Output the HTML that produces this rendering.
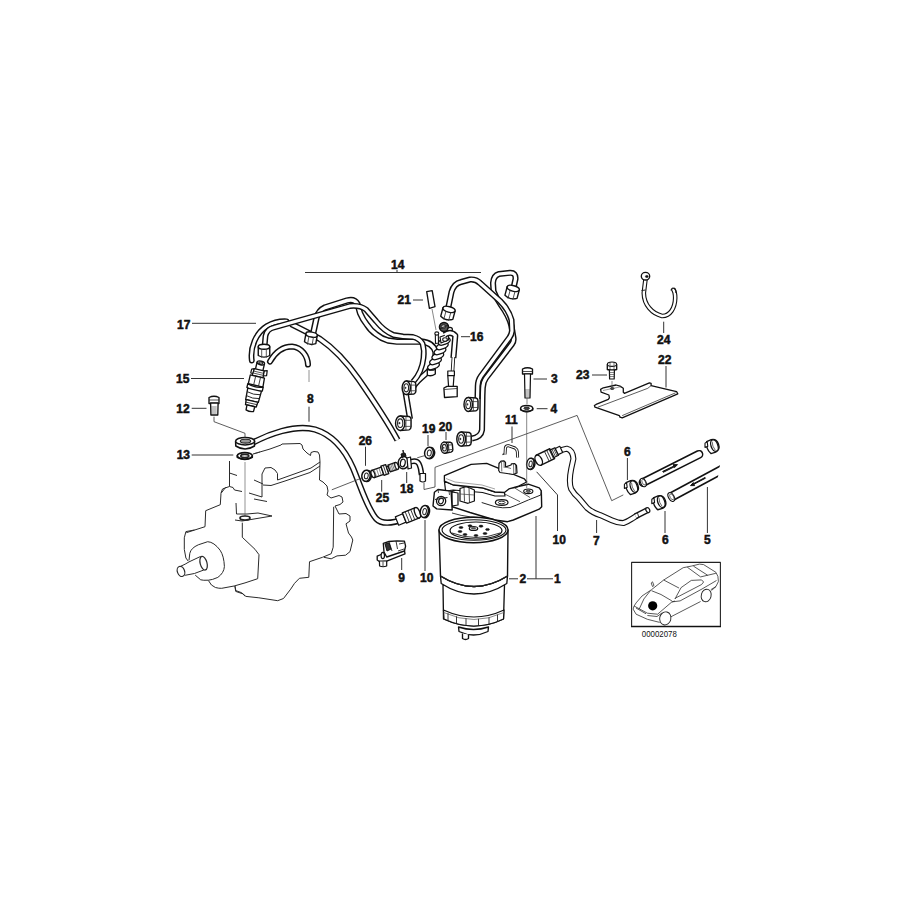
<!DOCTYPE html>
<html><head><meta charset="utf-8"><style>
html,body{margin:0;padding:0;background:#fff;width:900px;height:900px;overflow:hidden}
svg{display:block}
.l{font-family:"Liberation Sans",sans-serif;font-weight:bold;fill:#111;stroke:#111;stroke-width:0.5px}
.s{font-family:"Liberation Sans",sans-serif;fill:#111}
</style></head><body>
<svg width="900" height="900" viewBox="0 0 900 900">
<rect width="900" height="900" fill="#fff"/>
<path d="M225.7,487.3 L221,493.3 L220.3,504.7 L205.7,510.7 L205,526.7 L186.3,532.7" fill="none" stroke="#2a2a2a" stroke-width="1.0"/>
<path d="M221,493 L222.5,489 L225,488 L229.5,486.5 L233,487.5 L234.5,490" fill="none" stroke="#2a2a2a" stroke-width="1.0"/>
<path d="M253.4,453.9 L270,449 L281,445 L282,444 L300,443.5 L302,445 L303,449 L307,453 L310.5,455.5 L311,452.5 L314,451.5 L318,452 L319.5,455 L320,462 L319.5,480 L323,482 L327,486 L328,491 L327,495 L331,498 L339,495.5 L342,497 L343,502 L340,504.5 L335,506 L339,514 L346,513.5 L350,516 L350,521 L346,523.8 L348.5,533 L351.5,537 L352.8,540 L350,551.6 L345.6,555.2 L337,555.9 L331.2,558.8 L324,557.3" fill="none" stroke="#2a2a2a" stroke-width="1.0"/>
<path d="M262,474 L265,468 L271,467.5 L275,470 L277.5,473.5 L277.5,480 L311,468 L320,462" fill="none" stroke="#2a2a2a" stroke-width="1.0"/>
<path d="M263,485 L271,485.5 L285,481 L310,472.5 L320,466" fill="none" stroke="#2a2a2a" stroke-width="1.0"/>
<path d="M333.7,506.8 L333.2,547.2 L331.2,553.7 L322.5,557.3 L309.5,561.7 L308.8,577.3 L299.4,578.3 Q294,583 290.7,589.1 L283.5,598.5 L277.7,600.7 L258.9,597.8 L245.9,596.4 L241.6,592.7 L235.8,590.6 L235,586.2" fill="none" stroke="#2a2a2a" stroke-width="1.0"/>
<path d="M194.4,530 L185.9,531.6 L184.3,537.8 L184.3,549.4 L185.9,558 L188.2,561.1" fill="none" stroke="#2a2a2a" stroke-width="1.0"/>
<path d="M189,560.3 L189.8,553.3 Q191,548 198.3,544.8 L207.7,541.7 Q214,542 220.1,550.2 Q224,556 224.4,566.5 Q224,573 217.8,577.4 Q212,580 208.4,580.2 Q203,580.5 200.7,579.8 L195.2,575.1" fill="none" stroke="#2a2a2a" stroke-width="1.0"/>
<path d="M208.4,580.5 Q211,586 215.4,587.5 Q219,588.5 221.7,588.3 L234.1,586 L245,582.9 M234.9,586 L235.7,591.4 L242.7,593.8 L245,596.1" fill="none" stroke="#2a2a2a" stroke-width="1.0"/>
<path d="M200.7,556.4 L189,561.9 L185.1,564.2 L180.8,566.2" fill="none" stroke="#2a2a2a" stroke-width="1.0"/>
<path d="M203.8,570 L194.4,573.5 L185.1,575.3" fill="none" stroke="#2a2a2a" stroke-width="1.0"/>
<ellipse cx="203.6" cy="563.2" rx="3.4" ry="7.0" fill="none" stroke="#2a2a2a" stroke-width="1.22" transform="rotate(-15 203.6 563.2)"/>
<ellipse cx="181" cy="571.4" rx="3.6" ry="5.2" fill="#fff" stroke="#2a2a2a" stroke-width="1.22" transform="rotate(-20 181 571.4)"/>
<path d="M245,582.9 L257.7,578.7 L259,554.7 L255,549.3 L242.3,537.3 L242.3,522.7" fill="none" stroke="#2a2a2a" stroke-width="1.0"/>
<path d="M236,503 L236.5,514 L247,514 L258,513 L272,516 L242,521 L235,520" fill="none" stroke="#2a2a2a" stroke-width="1.0"/>
<path d="M229.5,461 L229.5,486.5 M229.5,473 L237,475.5" fill="none" stroke="#2a2a2a" stroke-width="1.0"/>
<path d="M234.5,490 L242,491.5 M254,480 L263,484 M249,493 L262,497 M254,499 L267,501.5" fill="none" stroke="#2a2a2a" stroke-width="1.0"/>
<path d="M262,474 L262,497" fill="none" stroke="#2a2a2a" stroke-width="1.0"/>
<path d="M245,462 L245,517" fill="none" stroke="#666" stroke-width="0.7"/>
<ellipse cx="245" cy="518" rx="5" ry="2" fill="#fff" stroke="#222" stroke-width="1.708" transform="rotate(0 245 518)"/>
<path d="M291,324 C300,328.5 312,334.5 320,339 C334,348.5 348,364 358.5,379 C371,397 386,419 397.5,440" fill="none" stroke="#111" stroke-width="6.344" stroke-linecap="butt" stroke-linejoin="round" />
<path d="M291,324 C300,328.5 312,334.5 320,339 C334,348.5 348,364 358.5,379 C371,397 386,419 397.5,440" fill="none" stroke="#fff" stroke-width="3.4440000000000004" stroke-linecap="butt" stroke-linejoin="round" />
<path d="M251.8,360.5 C250,347 256,333 267,326 C274,322 280,321 286.5,321.3" fill="none" stroke="#111" stroke-width="5.856" stroke-linecap="round" stroke-linejoin="round" />
<path d="M251.8,360.5 C250,347 256,333 267,326 C274,322 280,321 286.5,321.3" fill="none" stroke="#fff" stroke-width="2.956" stroke-linecap="round" stroke-linejoin="round" />
<path d="M270,361.5 C276,351 284,346.5 292,346.5 C302,347.5 307.5,356 308,364.5" fill="none" stroke="#111" stroke-width="6.1" stroke-linecap="round" stroke-linejoin="round" />
<path d="M270,361.5 C276,351 284,346.5 292,346.5 C302,347.5 307.5,356 308,364.5" fill="none" stroke="#fff" stroke-width="3.1999999999999997" stroke-linecap="round" stroke-linejoin="round" />
<path d="M313,334 L316.5,318 Q318.5,310.5 325,307.5 L347,300.5 Q354.5,298.5 357.5,304 L360,313 Q363,320 367,324.8 Q371,331 376,334.2 Q381,338.5 388,340.5 L397,341.7 L421,341.5 Q433,342.5 435.5,352 Q436.5,363 430,370 L421,378 Q414,384 410,392" fill="none" stroke="#111" stroke-width="6.344" stroke-linecap="butt" stroke-linejoin="round" />
<path d="M313,334 L316.5,318 Q318.5,310.5 325,307.5 L347,300.5 Q354.5,298.5 357.5,304 L360,313 Q363,320 367,324.8 Q371,331 376,334.2 Q381,338.5 388,340.5 L397,341.7 L421,341.5 Q433,342.5 435.5,352 Q436.5,363 430,370 L421,378 Q414,384 410,392" fill="none" stroke="#fff" stroke-width="3.4440000000000004" stroke-linecap="butt" stroke-linejoin="round" />
<path d="M264.5,347 L265.5,336 Q267,329 274,327.5 L350,306 Q360,305 366,309.5 L376,321 Q384,331 393.5,335 L403,336.5 L413,337 Q419.5,338.5 422.5,343.5 Q424.5,350 423.5,358 Q422,372 413,382" fill="none" stroke="#111" stroke-width="5.856" stroke-linecap="butt" stroke-linejoin="round" />
<path d="M264.5,347 L265.5,336 Q267,329 274,327.5 L350,306 Q360,305 366,309.5 L376,321 Q384,331 393.5,335 L403,336.5 L413,337 Q419.5,338.5 422.5,343.5 Q424.5,350 423.5,358 Q422,372 413,382" fill="none" stroke="#fff" stroke-width="2.956" stroke-linecap="butt" stroke-linejoin="round" />
<path d="M405.5,392 L410,419" fill="none" stroke="#111" stroke-width="6.1" stroke-linecap="butt" stroke-linejoin="round" />
<path d="M405.5,392 L410,419" fill="none" stroke="#fff" stroke-width="3.1999999999999997" stroke-linecap="butt" stroke-linejoin="round" />
<path d="M513.5,288 L515.5,279 Q516,272.5 510,272.8 L499,274 Q493.5,275.5 493,283 L493.5,291 Q496,298 501,305 Q509,316 511.5,326 L513.5,338 Q514,341.5 512,344 L486,378 Q483,382 482.8,388 L482.5,396 L482,430 Q481,437 472,438.5" fill="none" stroke="#111" stroke-width="6.1" stroke-linecap="butt" stroke-linejoin="round" />
<path d="M513.5,288 L515.5,279 Q516,272.5 510,272.8 L499,274 Q493.5,275.5 493,283 L493.5,291 Q496,298 501,305 Q509,316 511.5,326 L513.5,338 Q514,341.5 512,344 L486,378 Q483,382 482.8,388 L482.5,396 L482,430 Q481,437 472,438.5" fill="none" stroke="#fff" stroke-width="3.1999999999999997" stroke-linecap="butt" stroke-linejoin="round" />
<path d="M448,309 L451.5,292 Q454,283.5 461,282 L470,279.5 Q476,279 480,283 L500,301 Q509,310 511.5,320 L512,331 Q511.5,335 509.5,337.5 L481,376 Q478,380 477.8,386 L477.5,399" fill="none" stroke="#111" stroke-width="6.1" stroke-linecap="butt" stroke-linejoin="round" />
<path d="M448,309 L451.5,292 Q454,283.5 461,282 L470,279.5 Q476,279 480,283 L500,301 Q509,310 511.5,320 L512,331 Q511.5,335 509.5,337.5 L481,376 Q478,380 477.8,386 L477.5,399" fill="none" stroke="#fff" stroke-width="3.1999999999999997" stroke-linecap="butt" stroke-linejoin="round" />
<g transform="rotate(0 264 351.5)">
<path d="M258.25,346.75 L258.25,355.49 Q264.00,358.78 269.75,355.49 L269.75,346.75 Z" fill="#fff" stroke="#111" stroke-width="1.4" stroke-linejoin="round"/>
<ellipse cx="264" cy="346.75" rx="5.75" ry="2.53" fill="#fff" stroke="#111" stroke-width="1.4"/>
<path d="M261.70,349.03 L261.70,357.77 M266.30,349.03 L266.30,357.77" stroke="#333" stroke-width="0.8" fill="none"/>
</g>
<g transform="rotate(10 310.8 339)">
<path d="M305.05,334.50 L305.05,342.74 Q310.80,346.03 316.55,342.74 L316.55,334.50 Z" fill="#fff" stroke="#111" stroke-width="1.4" stroke-linejoin="round"/>
<ellipse cx="310.8" cy="334.50" rx="5.75" ry="2.53" fill="#fff" stroke="#111" stroke-width="1.4"/>
<path d="M308.50,336.78 L308.50,345.02 M313.10,336.78 L313.10,345.02" stroke="#333" stroke-width="0.8" fill="none"/>
</g>
<g transform="rotate(15 447.8 314)">
<path d="M441.55,309.25 L441.55,317.93 Q447.80,321.50 454.05,317.93 L454.05,309.25 Z" fill="#fff" stroke="#111" stroke-width="1.4" stroke-linejoin="round"/>
<ellipse cx="447.8" cy="309.25" rx="6.25" ry="2.75" fill="#fff" stroke="#111" stroke-width="1.4"/>
<path d="M445.30,311.73 L445.30,320.40 M450.30,311.73 L450.30,320.40" stroke="#333" stroke-width="0.8" fill="none"/>
</g>
<g transform="rotate(15 512 293)">
<path d="M505.75,288.25 L505.75,296.93 Q512.00,300.50 518.25,296.93 L518.25,288.25 Z" fill="#fff" stroke="#111" stroke-width="1.4" stroke-linejoin="round"/>
<ellipse cx="512" cy="288.25" rx="6.25" ry="2.75" fill="#fff" stroke="#111" stroke-width="1.4"/>
<path d="M509.50,290.73 L509.50,299.40 M514.50,290.73 L514.50,299.40" stroke="#333" stroke-width="0.8" fill="none"/>
</g>
<g transform="rotate(0 409 387.8)">
<path d="M406.26,381.05 L413.85,381.65 Q415.85,382.25 415.85,384.43 L415.85,391.18 Q415.85,393.35 413.85,393.95 L406.26,394.55 Z" fill="#fff" stroke="#111" stroke-width="1.45" stroke-linejoin="round"/>
<path d="M411.33,381.35 L411.33,394.25 M406.26,385.10 L415.85,385.10 M406.26,390.77 L415.85,390.77" stroke="#333" stroke-width="0.8" fill="none"/>
<ellipse cx="406.26" cy="387.8" rx="4.11" ry="6.75" fill="#fff" stroke="#111" stroke-width="1.45"/>
<ellipse cx="406.26" cy="387.8" rx="2.33" ry="4.05" fill="#fff" stroke="#222" stroke-width="1.1"/>
<ellipse cx="405.57" cy="387.8" rx="0.82" ry="1.08" fill="#333"/>
</g>
<g transform="rotate(0 403.3 423.2)">
<path d="M400.20,415.95 L409.05,416.55 Q411.05,417.15 411.05,419.57 L411.05,426.82 Q411.05,429.25 409.05,429.85 L400.20,430.45 Z" fill="#fff" stroke="#111" stroke-width="1.45" stroke-linejoin="round"/>
<path d="M405.94,416.25 L405.94,430.15 M400.20,420.30 L411.05,420.30 M400.20,426.39 L411.05,426.39" stroke="#333" stroke-width="0.8" fill="none"/>
<ellipse cx="400.20" cy="423.2" rx="4.65" ry="7.25" fill="#fff" stroke="#111" stroke-width="1.45"/>
<ellipse cx="400.20" cy="423.2" rx="2.64" ry="4.35" fill="#fff" stroke="#222" stroke-width="1.1"/>
<ellipse cx="399.43" cy="423.2" rx="0.93" ry="1.16" fill="#333"/>
</g>
<g transform="rotate(0 471 404.4)">
<path d="M468.20,397.40 L476.00,398.00 Q478.00,398.60 478.00,400.90 L478.00,407.90 Q478.00,410.20 476.00,410.80 L468.20,411.40 Z" fill="#fff" stroke="#111" stroke-width="1.45" stroke-linejoin="round"/>
<path d="M473.38,397.70 L473.38,411.10 M468.20,401.60 L478.00,401.60 M468.20,407.48 L478.00,407.48" stroke="#333" stroke-width="0.8" fill="none"/>
<ellipse cx="468.20" cy="404.4" rx="4.20" ry="7.00" fill="#fff" stroke="#111" stroke-width="1.45"/>
<ellipse cx="468.20" cy="404.4" rx="2.38" ry="4.20" fill="#fff" stroke="#222" stroke-width="1.1"/>
<ellipse cx="467.50" cy="404.4" rx="0.84" ry="1.12" fill="#333"/>
</g>
<g transform="rotate(0 464 439)">
<path d="M461.12,431.90 L469.20,432.50 Q471.20,433.10 471.20,435.45 L471.20,442.55 Q471.20,444.90 469.20,445.50 L461.12,446.10 Z" fill="#fff" stroke="#111" stroke-width="1.45" stroke-linejoin="round"/>
<path d="M466.45,432.20 L466.45,445.80 M461.12,436.16 L471.20,436.16 M461.12,442.12 L471.20,442.12" stroke="#333" stroke-width="0.8" fill="none"/>
<ellipse cx="461.12" cy="439" rx="4.32" ry="7.10" fill="#fff" stroke="#111" stroke-width="1.45"/>
<ellipse cx="461.12" cy="439" rx="2.45" ry="4.26" fill="#fff" stroke="#222" stroke-width="1.1"/>
<ellipse cx="460.40" cy="439" rx="0.86" ry="1.14" fill="#333"/>
</g>
<path d="M426.7,291.7 L432.2,290.6 L435,306.7 L429.4,308.3 Z" fill="#fff" stroke="#111" stroke-width="1.342" stroke-linejoin="round" />
<path d="M427.3,369 L435.3,368 L435.3,374 Q431,377 427.3,375 Z" fill="#fff" stroke="#111" stroke-width="1.342" stroke-linejoin="round" />
<ellipse cx="431.3" cy="368.5" rx="4" ry="1.8" fill="#555" stroke="#111" stroke-width="1.098" transform="rotate(0 431.3 368.5)"/>
<ellipse cx="433.5" cy="366" rx="6.2" ry="2.9" fill="#fff" stroke="#111" stroke-width="1.281" transform="rotate(-22 433.5 366)"/>
<ellipse cx="435.5" cy="361" rx="6.2" ry="2.9" fill="#fff" stroke="#111" stroke-width="1.281" transform="rotate(-22 435.5 361)"/>
<ellipse cx="437.8" cy="356" rx="6.2" ry="2.9" fill="#fff" stroke="#111" stroke-width="1.281" transform="rotate(-22 437.8 356)"/>
<ellipse cx="440" cy="351" rx="6.2" ry="2.9" fill="#fff" stroke="#111" stroke-width="1.281" transform="rotate(-22 440 351)"/>
<ellipse cx="442.3" cy="346" rx="6.2" ry="2.9" fill="#fff" stroke="#111" stroke-width="1.281" transform="rotate(-22 442.3 346)"/>
<ellipse cx="444.3" cy="341.5" rx="6.2" ry="2.9" fill="#fff" stroke="#111" stroke-width="1.281" transform="rotate(-22 444.3 341.5)"/>
<path d="M440,337 L448.5,334 L448.5,340 L441,343 Z" fill="#fff" stroke="#111" stroke-width="1.22" stroke-linejoin="round" />
<ellipse cx="445" cy="339.5" rx="2.3" ry="1.8" fill="#fff" stroke="#111" stroke-width="1.098" transform="rotate(0 445 339.5)"/>
<path d="M435.3,334 L438.3,333.5 L438.5,343 L435.5,343.5 Z" fill="#fff" stroke="#111" stroke-width="1.098" stroke-linejoin="round" />
<ellipse cx="436.8" cy="333.5" rx="2.0" ry="1.6" fill="#fff" stroke="#111" stroke-width="1.098" transform="rotate(0 436.8 333.5)"/>
<ellipse cx="444" cy="327" rx="4.5" ry="4.5" fill="#555" stroke="#111" stroke-width="1.586" transform="rotate(0 444 327)"/>
<ellipse cx="443.5" cy="326.5" rx="2.2" ry="1.8" fill="#bbb" stroke="#222" stroke-width="0.976" transform="rotate(0 443.5 326.5)"/>
<path d="M440,329 L448,325" fill="none" stroke="#111" stroke-width="0.8"/>
<ellipse cx="450" cy="329.5" rx="2.4" ry="2.2" fill="#fff" stroke="#111" stroke-width="1.22" transform="rotate(0 450 329.5)"/>
<path d="M444.5,335 Q450.5,330.5 455.3,335.5 L453.4,358" fill="none" stroke="#111" stroke-width="6.1" stroke-linecap="butt" stroke-linejoin="round" />
<path d="M444.5,335 Q450.5,330.5 455.3,335.5 L453.4,358" fill="none" stroke="#fff" stroke-width="3.1999999999999997" stroke-linecap="butt" stroke-linejoin="round" />
<path d="M453.4,357 L452.5,371.5" fill="none" stroke="#111" stroke-width="3.6" stroke-linecap="butt" stroke-linejoin="round" />
<path d="M453.4,357 L452.5,371.5" fill="none" stroke="#fff" stroke-width="1.8" stroke-linecap="butt" stroke-linejoin="round" />
<path d="M447.8,371 L454.4,371 L454.4,375.6 L447.8,375.6 Z" fill="#fff" stroke="#111" stroke-width="1.22" stroke-linejoin="round" />
<path d="M447.8,375.6 L454,375.6 L453.2,386.7 L448.6,386.7 Z" fill="#fff" stroke="#111" stroke-width="1.22" stroke-linejoin="round" />
<path d="M443.9,388 L447,386.3 L457.2,386.3 L457.2,396.7 L444.5,397.5 Z" fill="#fff" stroke="#111" stroke-width="1.342" stroke-linejoin="round" />
<path d="M444.2,389.5 L457,388.5" fill="none" stroke="#222" stroke-width="0.8"/>
<g transform="translate(261,362) rotate(13)">
<path d="M-3.8,1 L3.8,1 L3.8,9 L-3.8,9 Z" fill="#fff" stroke="#111" stroke-width="1.342" stroke-linejoin="round" />
<ellipse cx="0" cy="1" rx="3.8" ry="1.8" fill="#fff" stroke="#111" stroke-width="1.342" transform="rotate(0 0 1)"/>
<ellipse cx="0" cy="1" rx="2" ry="0.9" fill="#fff" stroke="#111" stroke-width="0.976" transform="rotate(0 0 1)"/>
<path d="M-7.5,9 L-5,8 L-5,13 L-7.5,13 Z" fill="#fff" stroke="#111" stroke-width="1.22" stroke-linejoin="round" />
<path d="M5,8 L8,7 L8.5,12 L5,13 Z" fill="#fff" stroke="#111" stroke-width="1.22" stroke-linejoin="round" />
<path d="M-5,8 L5,8 L5.5,15 L-5.5,15 Z" fill="#fff" stroke="#111" stroke-width="1.342" stroke-linejoin="round" />
<path d="M-5,10.5 L5,10.5 M-5,12.5 L5.3,12.5" fill="none" stroke="#222" stroke-width="0.7"/>
<path d="M-7.5,15 L7,15 L7.5,24 L-7.5,24 Z" fill="#fff" stroke="#111" stroke-width="1.342" stroke-linejoin="round" />
<path d="M-2,15 L-2,24 M3,15 L3,24" fill="none" stroke="#222" stroke-width="0.8"/>
<path d="M-8,24 Q0,27 7.8,24 L7.8,28 Q0,31 -8,28 Z" fill="#fff" stroke="#111" stroke-width="1.342" stroke-linejoin="round" />
<path d="M-7,28.5 L7,28.5 L6.5,40 L-6.5,40 Z" fill="#fff" stroke="#111" stroke-width="1.342" stroke-linejoin="round" />
<path d="M-7,32 Q0,34 7,32 M-6.8,36 Q0,38 6.8,36" fill="none" stroke="#222" stroke-width="0.9"/>
<path d="M-6,40 L6,40 L5.5,45 L-5.5,45 Z" fill="#fff" stroke="#111" stroke-width="1.342" stroke-linejoin="round" />
<path d="M-6,42.5 L5.8,42.5" fill="none" stroke="#222" stroke-width="0.8"/>
<path d="M-4,45 L4,45 L3.8,50 Q0,51.5 -3.8,50 Z" fill="#fff" stroke="#111" stroke-width="1.342" stroke-linejoin="round" />
</g>
<path d="M209,397.5 Q214,395 219,397.5 L219,403.5 L209,403.5 Z" fill="#fff" stroke="#111" stroke-width="1.342" stroke-linejoin="round" />
<path d="M209,400 L219,400" fill="none" stroke="#222" stroke-width="0.8"/>
<path d="M210.6,403 L218.1,403 L217.8,415 L210.9,415 Z" fill="#fff" stroke="#111" stroke-width="1.342" stroke-linejoin="round" />
<path d="M211.3,407 L216.7,407" fill="none" stroke="#333" stroke-width="0.6"/>
<path d="M211.3,409 L216.7,409" fill="none" stroke="#333" stroke-width="0.6"/>
<path d="M211.3,411 L216.7,411" fill="none" stroke="#333" stroke-width="0.6"/>
<path d="M211.3,413 L216.7,413" fill="none" stroke="#333" stroke-width="0.6"/>
<path d="M252,443 C268,434.5 295,424 315,429.5 C333,435 345,450 353,468 C361,487 367,508 376,518.5 C382,525 392,523.5 404,519" fill="none" stroke="#111" stroke-width="6.344" stroke-linecap="butt" stroke-linejoin="round" />
<path d="M252,443 C268,434.5 295,424 315,429.5 C333,435 345,450 353,468 C361,487 367,508 376,518.5 C382,525 392,523.5 404,519" fill="none" stroke="#fff" stroke-width="3.4440000000000004" stroke-linecap="butt" stroke-linejoin="round" />
<path d="M235.6,441.5 L235.8,446 Q245,452 254.5,446 L254.5,441.5 Z" fill="#fff" stroke="#111" stroke-width="1.525" stroke-linejoin="round" />
<ellipse cx="245.1" cy="441.2" rx="9.5" ry="3.7" fill="#fff" stroke="#111" stroke-width="1.525" transform="rotate(0 245.1 441.2)"/>
<ellipse cx="245.5" cy="441.2" rx="5.2" ry="1.9" fill="#999" stroke="#222" stroke-width="1.098" transform="rotate(0 245.5 441.2)"/>
<path d="M237.3,455.8 L237.3,457.3 Q244.8,461.5 252.3,457.3 L252.3,455.8 Z" fill="#fff" stroke="#111" stroke-width="1.586" stroke-linejoin="round" />
<ellipse cx="244.8" cy="455.8" rx="7.5" ry="3.2" fill="#fff" stroke="#111" stroke-width="1.708" transform="rotate(0 244.8 455.8)"/>
<ellipse cx="244.8" cy="456" rx="4.0" ry="1.6" fill="#fff" stroke="#222" stroke-width="1.708" transform="rotate(0 244.8 456)"/>
<g transform="translate(397,521) rotate(-22)">
<path d="M0,-4.5 L8,-4.5 L8,4.5 L0,4.5 Z" fill="#fff" stroke="#111" stroke-width="1.22" stroke-linejoin="round" />
<path d="M8,-5.5 L22,-5.5 L22,5.5 L8,5.5 Z" fill="#fff" stroke="#111" stroke-width="1.342" stroke-linejoin="round" />
<path d="M11,-5.5 L11,5.5 M14,-5.5 L14,5.5 M17,-5.5 L17,5.5" fill="none" stroke="#222" stroke-width="0.8"/>
<ellipse cx="22" cy="0" rx="2.5" ry="5.5" fill="#fff" stroke="#111" stroke-width="1.342" transform="rotate(0 22 0)"/>
</g>
<g transform="rotate(10 424.3 511.5)">
<ellipse cx="425.5" cy="511.5" rx="4.0" ry="6.0" fill="#fff" stroke="#111" stroke-width="1.5"/>
<ellipse cx="424.3" cy="511.5" rx="4.0" ry="6.0" fill="#fff" stroke="#111" stroke-width="1.5"/>
<ellipse cx="424.6" cy="511.5" rx="1.80" ry="3.18" fill="#fff" stroke="#222" stroke-width="1.0"/>
</g>
<g transform="rotate(10 366 475.8)">
<ellipse cx="367.2" cy="475.8" rx="4.2" ry="5.6" fill="#fff" stroke="#111" stroke-width="1.5"/>
<ellipse cx="366" cy="475.8" rx="4.2" ry="5.6" fill="#fff" stroke="#111" stroke-width="1.5"/>
<ellipse cx="366.3" cy="475.8" rx="1.89" ry="2.97" fill="#fff" stroke="#222" stroke-width="1.0"/>
</g>
<g transform="translate(373,474) rotate(-19)">
<path d="M0,-3.8 L10,-3.8 L10,3.8 L0,3.8 Z" fill="#fff" stroke="#111" stroke-width="1.342" stroke-linejoin="round" />
<ellipse cx="0" cy="0" rx="1.8" ry="3.8" fill="#fff" stroke="#111" stroke-width="1.342" transform="rotate(0 0 0)"/>
<path d="M2.5,-3.8 L2.5,3.8 M5,-3.8 L5,3.8 M7.5,-3.8 L7.5,3.8" fill="none" stroke="#555" stroke-width="0.6"/>
<path d="M10,-4.8 L15,-4.8 L15,4.8 L10,4.8 Z" fill="#fff" stroke="#111" stroke-width="1.342" stroke-linejoin="round" />
<path d="M12.5,-4.8 L12.5,4.8" fill="none" stroke="#222" stroke-width="0.8"/>
<path d="M15,-2.2 L17,-2.2 L17,2.2 L15,2.2 Z" fill="#fff" stroke="#111" stroke-width="1.22" stroke-linejoin="round" />
<path d="M17,-3.6 L25,-3.6 L25,3.6 L17,3.6 Z" fill="#fff" stroke="#111" stroke-width="1.342" stroke-linejoin="round" />
<ellipse cx="25" cy="0" rx="1.6" ry="3.6" fill="#fff" stroke="#111" stroke-width="1.22" transform="rotate(0 25 0)"/>
<path d="M18.5,-3.6 L18.5,3.6 M20,-3.6 L20,3.6 M21.5,-3.6 L21.5,3.6 M23,-3.6 L23,3.6" fill="none" stroke="#444" stroke-width="0.6"/>
</g>
<path d="M408,463 Q416,459 419,464 Q421,468 421.5,475" fill="none" stroke="#111" stroke-width="5.611999999999999" stroke-linecap="butt" stroke-linejoin="round" />
<path d="M408,463 Q416,459 419,464 Q421,468 421.5,475" fill="none" stroke="#fff" stroke-width="2.7119999999999993" stroke-linecap="butt" stroke-linejoin="round" />
<path d="M420,473.5 L425.5,473.5 L425.5,481 Q423,483 420,481 Z" fill="#fff" stroke="#111" stroke-width="1.22" stroke-linejoin="round" />
<ellipse cx="403.4" cy="462.7" rx="5.2" ry="6.2" fill="#fff" stroke="#111" stroke-width="1.464" transform="rotate(10 403.4 462.7)"/>
<ellipse cx="402.8" cy="463" rx="2.4" ry="3.8" fill="#fff" stroke="#111" stroke-width="1.22" transform="rotate(10 402.8 463)"/>
<path d="M407,458 L410.5,457 L411.5,468 L408,469 Z" fill="#fff" stroke="#111" stroke-width="1.22" stroke-linejoin="round" />
<path d="M401,454 L405,453 L406,456 L402,457.5 Z" fill="#222" stroke="#111" stroke-width="0.976" stroke-linejoin="round" />
<path d="M403,450 L403.5,453.5" fill="none" stroke="#222" stroke-width="1.5"/>
<g transform="rotate(10 429 452.9)">
<ellipse cx="430.2" cy="452.9" rx="4.4" ry="5.6" fill="#fff" stroke="#111" stroke-width="1.5"/>
<ellipse cx="429" cy="452.9" rx="4.4" ry="5.6" fill="#fff" stroke="#111" stroke-width="1.5"/>
<ellipse cx="429.3" cy="452.9" rx="1.98" ry="2.97" fill="#fff" stroke="#222" stroke-width="1.0"/>
</g>
<g transform="rotate(-5 446.7 447.5)">
<path d="M444.34,441.90 L450.60,442.50 Q452.60,443.10 452.60,444.70 L452.60,450.30 Q452.60,451.90 450.60,452.50 L444.34,453.10 Z" fill="#fff" stroke="#111" stroke-width="1.45" stroke-linejoin="round"/>
<path d="M448.71,442.20 L448.71,452.80 M444.34,445.26 L452.60,445.26 M444.34,449.96 L452.60,449.96" stroke="#333" stroke-width="0.8" fill="none"/>
<ellipse cx="444.34" cy="447.5" rx="3.54" ry="5.60" fill="#fff" stroke="#111" stroke-width="1.45"/>
<ellipse cx="444.34" cy="447.5" rx="2.01" ry="3.36" fill="#fff" stroke="#222" stroke-width="1.1"/>
<ellipse cx="443.75" cy="447.5" rx="0.71" ry="0.90" fill="#333"/>
</g>
<path d="M522.5,369 Q527.5,366.5 532.5,369 L532.5,374 L522.5,374 Z" fill="#fff" stroke="#111" stroke-width="1.342" stroke-linejoin="round" />
<path d="M522.5,371.5 L532.5,371.5" fill="none" stroke="#222" stroke-width="0.8"/>
<path d="M524.5,374 L530.5,374 L530,398 L525,398 Z" fill="#fff" stroke="#111" stroke-width="1.22" stroke-linejoin="round" />
<path d="M524.8,390 L530.2,390" fill="none" stroke="#333" stroke-width="0.6"/>
<path d="M524.8,392 L530.2,392" fill="none" stroke="#333" stroke-width="0.6"/>
<path d="M524.8,394 L530.2,394" fill="none" stroke="#333" stroke-width="0.6"/>
<path d="M524.8,396 L530.2,396" fill="none" stroke="#333" stroke-width="0.6"/>
<path d="M520.6,408.3 L520.6,410 Q526.7,414 532.8,410 L532.8,408.3 Z" fill="#fff" stroke="#111" stroke-width="1.342" stroke-linejoin="round" />
<ellipse cx="526.7" cy="408.3" rx="6.1" ry="2.9" fill="#fff" stroke="#111" stroke-width="1.464" transform="rotate(0 526.7 408.3)"/>
<ellipse cx="526.7" cy="408.3" rx="2.8" ry="1.2" fill="#444" stroke="#222" stroke-width="0.976" transform="rotate(0 526.7 408.3)"/>
<path d="M645.5,279 L643.8,293 C644,305 652,313.5 662,316 C670,316.3 675,308 675.2,298 C675.2,294 674.5,291 673,289" fill="none" stroke="#111" stroke-width="4.6" stroke-linecap="butt" stroke-linejoin="round" />
<path d="M645.5,279 L643.8,293 C644,305 652,313.5 662,316 C670,316.3 675,308 675.2,298 C675.2,294 674.5,291 673,289" fill="none" stroke="#fff" stroke-width="2.3999999999999995" stroke-linecap="butt" stroke-linejoin="round" />
<path d="M671,290.5 Q672,287 674.5,288.5 Q676.5,290.5 676,293" fill="none" stroke="#111" stroke-width="1.22" stroke-linejoin="round" />
<ellipse cx="645.5" cy="276.2" rx="4.2" ry="3.8" fill="#fff" stroke="#111" stroke-width="1.342" transform="rotate(0 645.5 276.2)"/>
<ellipse cx="646.8" cy="276.5" rx="1.4" ry="1.1" fill="#111" stroke="#111" stroke-width="0.61" transform="rotate(0 646.8 276.5)"/>
<path d="M641.5,290.5 L645.5,290" fill="none" stroke="#222" stroke-width="1.0"/>
<path d="M607.3,364.5 Q612,361.3 616.7,364.5 L616.7,369.5 Q612,371 607.3,369.5 Z" fill="#fff" stroke="#111" stroke-width="1.342" stroke-linejoin="round" />
<ellipse cx="612" cy="364.2" rx="4.6" ry="2.2" fill="#fff" stroke="#111" stroke-width="1.098" transform="rotate(0 612 364.2)"/>
<path d="M610,363 L610,370 M614,363 L614,370" fill="none" stroke="#333" stroke-width="0.7"/>
<path d="M609.4,370 L614.4,370 L614.2,379 L609.6,379 Z" fill="#fff" stroke="#111" stroke-width="1.22" stroke-linejoin="round" />
<path d="M609.6,372.5 L614.2,372.5" fill="none" stroke="#333" stroke-width="0.6"/>
<path d="M609.6,374.5 L614.2,374.5" fill="none" stroke="#333" stroke-width="0.6"/>
<path d="M609.6,376.5 L614.2,376.5" fill="none" stroke="#333" stroke-width="0.6"/>
<path d="M600.6,389.4 L603.3,387.8 L616.1,385 L620,386.1 L623.3,388.3 L623.3,392.2 L624.4,393.3 L649.4,382.8 L651.1,383.3 L651.1,385.6 L674.4,391.1 L676.7,391.7 L677.8,393.9 L622.2,417.8 L620,417.2 L619.4,415.6 L595,407.2 L594.4,405.6 L596.1,404.4 L608.3,399.4 L609.4,397.8 L608.9,395 L601.1,392.2 Z" fill="#fff" stroke="#111" stroke-width="1.281" stroke-linejoin="round" />
<path d="M597.8,407.2 L647.8,388.3 L651.1,385.6" fill="none" stroke="#333" stroke-width="0.8"/>
<path d="M622.2,415.6 L675.6,392.8" fill="none" stroke="#333" stroke-width="0.8"/>
<path d="M619.4,415.6 L620,417.2" fill="none" stroke="#222" stroke-width="0.8"/>
<ellipse cx="612.2" cy="388.5" rx="1.8" ry="1.0" fill="#333" stroke="#111" stroke-width="0.732" transform="rotate(0 612.2 388.5)"/>
<path d="M603,390.5 L622,386.5" fill="none" stroke="#555" stroke-width="0.6"/>
<path d="M643,482.5 L699,454.3" fill="none" stroke="#111" stroke-width="8.8" stroke-linecap="round" stroke-linejoin="round" />
<path d="M643,482.5 L699,454.3" fill="none" stroke="#fff" stroke-width="5.800000000000001" stroke-linecap="round" stroke-linejoin="round" />
<ellipse cx="643.3" cy="482.5" rx="2.6" ry="4.4" fill="#fff" stroke="#111" stroke-width="1.098" transform="rotate(-26 643.3 482.5)"/>
<ellipse cx="643.8" cy="482.2" rx="1.6" ry="3.0" fill="none" stroke="#444" stroke-width="0.732" transform="rotate(-26 643.8 482.2)"/>
<path d="M662.7,471.4 L674,466 L673,464.7 L677.5,464.6 L674.6,467.6 L674.3,466.8 L663.3,472.3 Z" fill="#111" stroke="#111" stroke-width="0.976" stroke-linejoin="round" />
<path d="M671,497 L724,468.5" fill="none" stroke="#111" stroke-width="9.6" stroke-linecap="butt" stroke-linejoin="round" />
<path d="M671,497 L724,468.5" fill="none" stroke="#fff" stroke-width="6.5" stroke-linecap="butt" stroke-linejoin="round" />
<ellipse cx="671.3" cy="497" rx="2.8" ry="4.8" fill="#fff" stroke="#111" stroke-width="1.098" transform="rotate(-28 671.3 497)"/>
<ellipse cx="671.8" cy="496.8" rx="1.7" ry="3.2" fill="none" stroke="#444" stroke-width="0.732" transform="rotate(-28 671.8 496.8)"/>
<path d="M705.5,478.2 L694,484.2 L694.6,485.6 L690.5,485.6 L693.3,482.6 L693.8,483.5 L705,477.5 Z" fill="#111" stroke="#111" stroke-width="0.976" stroke-linejoin="round" />
<path d="M721.5,456 L740,456 L740,492 L717,492 L717.2,481.5 Z" fill="#fff"/>
<g transform="rotate(-20 631 487.6)">
<path d="M628,481.3 L633,481.0 Q638.3,481.6 638.3,487.6 Q638.3,493.6 633,494.20000000000005 L628,493.90000000000003 Q624.5,487.6 628,481.3 Z" fill="#fff" stroke="#111" stroke-width="1.342" stroke-linejoin="round" />
<ellipse cx="634" cy="487.6" rx="3.4" ry="6.0" fill="#fff" stroke="#111" stroke-width="1.342" transform="rotate(0 634 487.6)"/>
<path d="M633.2,483.1 Q631.6,487.6 633.2,492.1" fill="none" stroke="#444" stroke-width="0.732" stroke-linejoin="round" />
<path d="M624.5,486.1 L626,482.1 L628.5,481.6 L627.5,486.1 Z" fill="#fff" stroke="#111" stroke-width="1.098" stroke-linejoin="round" />
</g>
<g transform="rotate(-20 658.4 502.8)">
<path d="M655.4,496.5 L660.4,496.2 Q665.6999999999999,496.8 665.6999999999999,502.8 Q665.6999999999999,508.8 660.4,509.40000000000003 L655.4,509.1 Q651.9,502.8 655.4,496.5 Z" fill="#fff" stroke="#111" stroke-width="1.342" stroke-linejoin="round" />
<ellipse cx="661.4" cy="502.8" rx="3.4" ry="6.0" fill="#fff" stroke="#111" stroke-width="1.342" transform="rotate(0 661.4 502.8)"/>
<path d="M660.6,498.3 Q659.0,502.8 660.6,507.3" fill="none" stroke="#444" stroke-width="0.732" stroke-linejoin="round" />
<path d="M651.9,501.3 L653.4,497.3 L655.9,496.8 L654.9,501.3 Z" fill="#fff" stroke="#111" stroke-width="1.098" stroke-linejoin="round" />
</g>
<g transform="rotate(-20 711.6 446.6)">
<path d="M708.6,440.3 L713.6,440.0 Q718.9,440.6 718.9,446.6 Q718.9,452.6 713.6,453.20000000000005 L708.6,452.90000000000003 Q705.1,446.6 708.6,440.3 Z" fill="#fff" stroke="#111" stroke-width="1.342" stroke-linejoin="round" />
<ellipse cx="714.6" cy="446.6" rx="3.4" ry="6.0" fill="#fff" stroke="#111" stroke-width="1.342" transform="rotate(0 714.6 446.6)"/>
<path d="M713.8000000000001,442.1 Q712.2,446.6 713.8000000000001,451.1" fill="none" stroke="#444" stroke-width="0.732" stroke-linejoin="round" />
<path d="M705.1,445.1 L706.6,441.1 L709.1,440.6 L708.1,445.1 Z" fill="#fff" stroke="#111" stroke-width="1.098" stroke-linejoin="round" />
</g>
<path d="M561,450.1 L566.9,448.7 Q572.7,450 573.4,458.8 L571.2,468.9 Q568.5,482 571.2,489.1 Q574,494 578.5,497.8 L587.1,507.9 Q593,513 600.1,515.1 L611.7,520.2 Q618,523 623.3,523.1 Q628,521.5 631.9,518.8 L637,515.5" fill="none" stroke="#111" stroke-width="6.0" stroke-linecap="butt" stroke-linejoin="round" />
<path d="M561,450.1 L566.9,448.7 Q572.7,450 573.4,458.8 L571.2,468.9 Q568.5,482 571.2,489.1 Q574,494 578.5,497.8 L587.1,507.9 Q593,513 600.1,515.1 L611.7,520.2 Q618,523 623.3,523.1 Q628,521.5 631.9,518.8 L637,515.5" fill="none" stroke="#fff" stroke-width="3.8" stroke-linecap="butt" stroke-linejoin="round" />
<path d="M635.5,516.3 L647.8,510.1" fill="none" stroke="#111" stroke-width="6.2" stroke-linecap="butt" stroke-linejoin="round" />
<path d="M635.5,516.3 L647.8,510.1" fill="none" stroke="#fff" stroke-width="3.4000000000000004" stroke-linecap="butt" stroke-linejoin="round" />
<path d="M637.5,513 L639,517.8" fill="none" stroke="#222" stroke-width="0.9"/>
<ellipse cx="647.8" cy="510.1" rx="1.8" ry="2.6" fill="#fff" stroke="#111" stroke-width="1.22" transform="rotate(-25 647.8 510.1)"/>
<g transform="translate(538.7,460.2) rotate(-25.7)">
<path d="M0,-5.5 L15,-5.5 L15,5.5 L0,5.5 Z" fill="#fff" stroke="#111" stroke-width="1.4029999999999998" stroke-linejoin="round" />
<path d="M9,-5.5 L9,5.5 M11.5,-5.5 L11.5,5.5 M14,-5.5 L14,5.5" fill="none" stroke="#222" stroke-width="0.8"/>
<path d="M15,-4.2 L20,-4.2 L20,4.2 L15,4.2 Z" fill="#fff" stroke="#111" stroke-width="1.22" stroke-linejoin="round" />
<path d="M16.7,-4.2 L16.7,4.2 M18.4,-4.2 L18.4,4.2" fill="none" stroke="#222" stroke-width="0.7"/>
<path d="M20,-3.4 L25,-3.4 L25,3.4 L20,3.4 Z" fill="#fff" stroke="#111" stroke-width="1.22" stroke-linejoin="round" />
<ellipse cx="0" cy="0" rx="3.2" ry="5.5" fill="#fff" stroke="#111" stroke-width="1.4029999999999998" transform="rotate(0 0 0)"/>
</g>
<g transform="rotate(10 530.3 463.8)">
<ellipse cx="531.3" cy="463.8" rx="3.6" ry="5.6" fill="#fff" stroke="#111" stroke-width="1.5"/>
<ellipse cx="530.3" cy="463.8" rx="3.6" ry="5.6" fill="#fff" stroke="#111" stroke-width="1.5"/>
<ellipse cx="530.5999999999999" cy="463.8" rx="1.62" ry="2.97" fill="#fff" stroke="#222" stroke-width="1.0"/>
</g>
<path d="M505,454.5 L505.4,447.8 Q506,445.2 509,445.8 L515,448 Q517.2,449.3 517.4,452 L517.6,457.5" fill="none" stroke="#111" stroke-width="3.0" stroke-linecap="butt" stroke-linejoin="round" />
<path d="M505,454.5 L505.4,447.8 Q506,445.2 509,445.8 L515,448 Q517.2,449.3 517.4,452 L517.6,457.5" fill="none" stroke="#fff" stroke-width="1.3" stroke-linecap="butt" stroke-linejoin="round" />
<path d="M504.2,453.8 L502.5,454.6" fill="none" stroke="#222" stroke-width="1.2"/>
<path d="M452,513 Q470,518.5 490,517.5" fill="none" stroke="#222" stroke-width="0.9"/>
<path d="M450,506 L470,512.5 L495,520 L507.5,521.7 L513.3,520 L539.2,509.2 L541.7,506.7 L541.3,490.8 L539.2,487.9 L528.3,484.2 L513.3,487.5 L470,485 L450,492 Z" fill="#fff" stroke="#111" stroke-width="1.4029999999999998" stroke-linejoin="round" />
<path d="M481.7,502.5 L495,506.7 Q503,508.5 510,507.5 L516.7,505 L528.3,500 L540.8,495 L541.3,490.8" fill="none" stroke="#222" stroke-width="1.0"/>
<path d="M514,487.5 L530,497.5 M503.3,493.3 L520,501.7" fill="none" stroke="#333" stroke-width="0.8"/>
<ellipse cx="501.7" cy="502.5" rx="6.3" ry="2.8" fill="#fff" stroke="#111" stroke-width="1.22" transform="rotate(0 501.7 502.5)"/>
<ellipse cx="501.7" cy="502.5" rx="3.3" ry="1.4" fill="#fff" stroke="#111" stroke-width="0.976" transform="rotate(0 501.7 502.5)"/>
<ellipse cx="528.3" cy="491.3" rx="4.6" ry="2.3" fill="#fff" stroke="#111" stroke-width="1.098" transform="rotate(0 528.3 491.3)"/>
<ellipse cx="528.3" cy="491.3" rx="2.2" ry="1.1" fill="#777" stroke="#111" stroke-width="0.732" transform="rotate(0 528.3 491.3)"/>
<path d="M444.4,481.1 L453.3,485 L482.5,487.9 L495,492 L504.4,492.5 L505,496 L495,496 L482.5,492.5 L453.3,490 L445.6,491 Z" fill="#fff" stroke="#111" stroke-width="1.22" stroke-linejoin="round" />
<path d="M444.4,475.6 L471.1,464.4 L486.7,463.3 L524.4,478.9 L526.7,482 L517.8,486.5 L508.9,488.9 L504.4,492.5 L495,492 L482.5,487.9 L453.3,485 L444.4,481.1 Z" fill="#fff" stroke="#111" stroke-width="1.342" stroke-linejoin="round" />
<path d="M446,478.5 L455,482 L482,485 L495,489" fill="none" stroke="#666" stroke-width="0.6"/>
<path d="M498.7,470.5 L499,463.5 L501,461.2 L504,460.8 L505.5,462.5 L505.5,467 L511,465 L511.5,463.8 L514.5,463.5 L516.5,465.5 L517,473 L513,474.5 L507,473.5 L500,472.5 Z" fill="#fff" stroke="#111" stroke-width="1.22" stroke-linejoin="round" />
<path d="M501.5,462 L501.8,471.5 M504,461.5 L504.2,468 M513.5,464 L513.8,474 M515.5,465 L515.8,473.5" fill="none" stroke="#333" stroke-width="0.7"/>
<path d="M505.5,467 L511,468.5" fill="none" stroke="#333" stroke-width="0.7"/>
<path d="M460,488.5 L466,486.7 L470,488 L474.4,490 L474.4,501 L468,503.3 L460,501 Z" fill="#fff" stroke="#111" stroke-width="1.22" stroke-linejoin="round" />
<path d="M464,487.5 L464.5,501.5 M469,488 L469.5,502.5" fill="none" stroke="#222" stroke-width="0.8"/>
<path d="M460,494 L474.4,495" fill="none" stroke="#444" stroke-width="0.7"/>
<path d="M452,492 L458,493 L458,505 L452,506 Z" fill="#fff" stroke="#111" stroke-width="1.22" stroke-linejoin="round" />
<path d="M434.4,492.2 L438,489.5 L442,490 L451.1,491.1 L452.2,510 L436.7,508.9 L433,506 Z" fill="#fff" stroke="#111" stroke-width="1.4029999999999998" stroke-linejoin="round" />
<ellipse cx="441.1" cy="501.1" rx="4.6" ry="4.6" fill="#fff" stroke="#111" stroke-width="1.342" transform="rotate(0 441.1 501.1)"/>
<ellipse cx="441" cy="501" rx="2.3" ry="2.9" fill="#fff" stroke="#111" stroke-width="1.098" transform="rotate(20 441 501)"/>
<path d="M435,499.5 L447.5,497.5" fill="none" stroke="#222" stroke-width="1.2"/>
<path d="M438,489.5 L438.5,493 M449,491 L449.5,495" fill="none" stroke="#222" stroke-width="0.8"/>
<path d="M443,585 L443.5,619 Q474,633 503.5,619 L504.5,585 Z" fill="#fff" stroke="#111" stroke-width="1.342" stroke-linejoin="round" />
<path d="M443.5,610 Q474,624 504,610 L503.5,619 Q474,633 444,619 Z" fill="#fff" stroke="#111" stroke-width="1.22" stroke-linejoin="round" />
<path d="M443.7,612.5 Q474,626.5 503.8,612.5" fill="none" stroke="#555" stroke-width="0.7"/>
<path d="M448,613.2 L448,620.2" fill="none" stroke="#222" stroke-width="0.9"/>
<path d="M456.5,616.3 L456.5,623.3" fill="none" stroke="#222" stroke-width="0.9"/>
<path d="M466,618.3 L466,625.3" fill="none" stroke="#222" stroke-width="0.9"/>
<path d="M478.5,618.8 L478.5,625.8" fill="none" stroke="#222" stroke-width="0.9"/>
<path d="M489,617.3 L489,624.3" fill="none" stroke="#222" stroke-width="0.9"/>
<path d="M497.5,614.6 L497.5,621.6" fill="none" stroke="#222" stroke-width="0.9"/>
<path d="M458.5,627 L459,631.5 Q473.5,638.5 488,631.5 L488.5,627 Q473.5,632 458.5,627 Z" fill="#fff" stroke="#111" stroke-width="1.342" stroke-linejoin="round" />
<path d="M462.5,633.5 L462.5,638.5 Q465.5,640.5 468.5,638.5 L468.5,634.5" fill="#fff" stroke="#111" stroke-width="1.342" stroke-linejoin="round" />
<path d="M440.5,576 L441.2,583.5 Q474,604.5 506.8,583.5 L507.5,576 Q474,597 440.5,576 Z" fill="#fff" stroke="#111" stroke-width="1.342" stroke-linejoin="round" />
<path d="M439,530 L440.5,576 Q474,597 507.5,576 L508,530 Z" fill="#fff" stroke="#111" stroke-width="1.4029999999999998" stroke-linejoin="round" />
<path d="M440.5,576 Q474,597 507.5,576" fill="none" stroke="#222" stroke-width="1.3"/>
<ellipse cx="473.5" cy="530" rx="34.5" ry="12.7" fill="#fff" stroke="#111" stroke-width="1.464" transform="rotate(0 473.5 530)"/>
<ellipse cx="474" cy="530" rx="32" ry="10.3" fill="#fff" stroke="#111" stroke-width="1.098" transform="rotate(0 474 530)"/>
<ellipse cx="476" cy="530.5" rx="26" ry="8.5" fill="#fff" stroke="#111" stroke-width="1.22" transform="rotate(0 476 530.5)"/>
<path d="M452,533 Q476,542 500,533" fill="none" stroke="#111" stroke-width="0.854" stroke-linejoin="round" />
<ellipse cx="473.5" cy="528.5" rx="4.2" ry="2.0" fill="#fff" stroke="#111" stroke-width="1.22" transform="rotate(0 473.5 528.5)"/>
<ellipse cx="473.5" cy="528.2" rx="2.4" ry="1.0" fill="#555" stroke="#555" stroke-width="0.61" transform="rotate(0 473.5 528.2)"/>
<ellipse cx="460" cy="531.5" rx="2.0" ry="1.1" fill="#111" stroke="#111" stroke-width="0.488" transform="rotate(0 460 531.5)"/>
<ellipse cx="465" cy="534.5" rx="2.0" ry="1.1" fill="#111" stroke="#111" stroke-width="0.488" transform="rotate(0 465 534.5)"/>
<ellipse cx="476" cy="535.5" rx="2.0" ry="1.1" fill="#111" stroke="#111" stroke-width="0.488" transform="rotate(0 476 535.5)"/>
<ellipse cx="485" cy="533.5" rx="2.0" ry="1.1" fill="#111" stroke="#111" stroke-width="0.488" transform="rotate(0 485 533.5)"/>
<ellipse cx="487.5" cy="529.5" rx="2.0" ry="1.1" fill="#111" stroke="#111" stroke-width="0.488" transform="rotate(0 487.5 529.5)"/>
<ellipse cx="461" cy="527.5" rx="2.0" ry="1.1" fill="#111" stroke="#111" stroke-width="0.488" transform="rotate(0 461 527.5)"/>
<ellipse cx="470" cy="525.8" rx="2.0" ry="1.1" fill="#111" stroke="#111" stroke-width="0.488" transform="rotate(0 470 525.8)"/>
<ellipse cx="481" cy="526.2" rx="2.0" ry="1.1" fill="#111" stroke="#111" stroke-width="0.488" transform="rotate(0 481 526.2)"/>
<path d="M377.2,556.1 L381.1,554.5 L404.4,550 L405,553.9 L386.7,561.1 L380,562 L377.2,560 Z" fill="#fff" stroke="#111" stroke-width="1.342" stroke-linejoin="round" />
<path d="M383.3,543.3 L389,541.5 L397,540.8 L404.4,541.1 L405.6,546.1 L404.4,551 L386.7,557 L384,552 Z" fill="#fff" stroke="#111" stroke-width="1.342" stroke-linejoin="round" />
<path d="M389,541.5 L392,551 M396,541 L397.5,549 M399,544 L404,543 M398,551 L404,549" fill="none" stroke="#222" stroke-width="0.9"/>
<path d="M385,544 L389,543 L391,549 L387,551 Z" fill="#333" stroke="#111" stroke-width="0.976" stroke-linejoin="round" />
<ellipse cx="382.8" cy="555.5" rx="1.7" ry="3.2" fill="#fff" stroke="#111" stroke-width="1.22" transform="rotate(0 382.8 555.5)"/>
<path d="M379.4,561 L379.6,566 Q383,567.5 386.7,566 L386.7,561 Z" fill="#fff" stroke="#111" stroke-width="1.22" stroke-linejoin="round" />
<path d="M383,561.5 L383,566.5" fill="none" stroke="#222" stroke-width="0.8"/>
<path d="M631.6,562.4 L720.4,562.4 L720.4,626.4 L631.6,626.4 Z" fill="none" stroke="#222" stroke-width="1.098" stroke-linejoin="round" />
<path d="M631,626.6 L721,626.6" fill="none" stroke="#111" stroke-width="1.4"/>
<path d="M651.5,589.7 L663.7,580 L683.2,567.7 L691.3,566.1 L699.5,564.1 L703.6,564.6 L715.9,572.3 L717.9,576.4 L718.4,581.5 L715.9,586.6 L710.8,589.7" fill="none" stroke="#222" stroke-width="0.75"/>
<path d="M687.3,567.2 L700.6,576.9 M693.4,566.1 L707.7,575.3 M700.6,576.9 L715.9,573.3 M663.7,580 L679.1,588.1" fill="none" stroke="#222" stroke-width="0.75"/>
<path d="M675,598.9 L681.1,587.6 L691.3,580.4 L701.6,579.9 L703.6,582 L701.6,584.5 L676,597.8 Z" fill="none" stroke="#222" stroke-width="0.75"/>
<path d="M651.2,583 L652.5,581.8 L654,585.5 L652.5,586.5 Z" fill="none" stroke="#222" stroke-width="0.75"/>
<path d="M651.5,589.7 L642,596 L636.1,602.9 L634.1,606 L633.1,609.1 L636.1,614.2 L647.4,619.3 L659.7,622.4" fill="none" stroke="#222" stroke-width="0.75"/>
<path d="M651.5,590.7 L661,594.5 L671.9,600.9" fill="none" stroke="#222" stroke-width="0.75"/>
<path d="M650.4,590.7 Q643,598 639.2,609.1" fill="none" stroke="#222" stroke-width="0.75"/>
<path d="M634.1,606 L647.4,613.2 L657.6,614.2 L671.9,601.9 L675,601" fill="none" stroke="#222" stroke-width="0.75"/>
<path d="M636,608 L646,613.8 M647.4,615.5 L657,616.5 L662,613" fill="none" stroke="#222" stroke-width="0.75"/>
<path d="M671.9,601.9 L680.1,600.9 L702,589 L716.5,580.5" fill="none" stroke="#222" stroke-width="0.75"/>
<path d="M669.5,617.5 L700.6,601.5" fill="none" stroke="#222" stroke-width="0.75"/>
<path d="M711.5,590.5 L716,586.5" fill="none" stroke="#222" stroke-width="0.75"/>
<ellipse cx="665.3" cy="618.4" rx="5.6" ry="6.6" fill="#fff" stroke="#222" stroke-width="0.915" transform="rotate(15 665.3 618.4)"/>
<ellipse cx="706.2" cy="595.5" rx="4.9" ry="6.4" fill="#fff" stroke="#222" stroke-width="0.915" transform="rotate(15 706.2 595.5)"/>
<circle cx="652.7" cy="605.8" r="4.6" fill="#000"/>
<path d="M305,272.5 L481,272.5" fill="none" stroke="#333" stroke-width="1.0"/>
<path d="M397,272.5 L397,270" fill="none" stroke="#333" stroke-width="1.0"/>
<path d="M192,323.3 L256,323.3" fill="none" stroke="#333" stroke-width="1.0"/>
<path d="M191,378.5 L244,378.5" fill="none" stroke="#333" stroke-width="1.0"/>
<path d="M191.7,408.3 L206.5,408.3" fill="none" stroke="#333" stroke-width="1.0"/>
<path d="M413,300 L423,300" fill="none" stroke="#333" stroke-width="1.0"/>
<path d="M461,336.7 L470,336.7" fill="none" stroke="#333" stroke-width="1.0"/>
<path d="M309,406.7 L309,421.7" fill="none" stroke="#333" stroke-width="1.0"/>
<path d="M533.5,379 L547,379" fill="none" stroke="#333" stroke-width="1.0"/>
<path d="M536.7,408.7 L547.5,408.7" fill="none" stroke="#333" stroke-width="1.0"/>
<path d="M592,375 L607,375" fill="none" stroke="#333" stroke-width="1.0"/>
<path d="M666,366 L666,387.5" fill="none" stroke="#333" stroke-width="1.0"/>
<path d="M663.7,321.7 L663.7,333" fill="none" stroke="#333" stroke-width="1.0"/>
<path d="M365.5,446.7 L365.5,465.8" fill="none" stroke="#333" stroke-width="1.0"/>
<path d="M428,435 L428,446" fill="none" stroke="#333" stroke-width="1.0"/>
<path d="M446,432 L446,440" fill="none" stroke="#333" stroke-width="1.0"/>
<path d="M512,426.5 L512,443" fill="none" stroke="#333" stroke-width="1.0"/>
<path d="M191.7,455 L233.3,455" fill="none" stroke="#333" stroke-width="1.0"/>
<path d="M381.7,480 L381.7,491.7" fill="none" stroke="#333" stroke-width="1.0"/>
<path d="M406.7,472 L406.7,483" fill="none" stroke="#333" stroke-width="1.0"/>
<path d="M627.4,458 L627.4,480" fill="none" stroke="#333" stroke-width="1.0"/>
<path d="M665,511 L665,533" fill="none" stroke="#333" stroke-width="1.0"/>
<path d="M707.4,487 L707.4,533" fill="none" stroke="#333" stroke-width="1.0"/>
<path d="M596.6,520 L596.6,533" fill="none" stroke="#333" stroke-width="1.0"/>
<path d="M401.7,558 L401.7,570" fill="none" stroke="#333" stroke-width="1.0"/>
<path d="M425,520 L425,571" fill="none" stroke="#333" stroke-width="1.0"/>
<path d="M509,578.8 L518,578.8" fill="none" stroke="#333" stroke-width="1.0"/>
<path d="M527,578.8 L553,578.8" fill="none" stroke="#333" stroke-width="1.0"/>
<path d="M536,516 L536,578.8" fill="none" stroke="#333" stroke-width="1.0"/>
<path d="M536.6,471.8 L557.5,494.9 L557.5,531" fill="none" stroke="#333" stroke-width="1.0"/>
<path d="M214,416.7 L214,421.7 L245,433.3 L245,438" fill="none" stroke="#333" stroke-width="0.8"/>
<path d="M432,309 L436,330" fill="none" stroke="#555" stroke-width="0.7"/>
<path d="M309,370 L309,382" fill="none" stroke="#777" stroke-width="0.8"/>
<path d="M424,482.7 L424,489.5 L435,487 L435,467.3 L577.1,415.4 L611.7,500.7 L623.3,494.9" fill="none" stroke="#333" stroke-width="0.8"/>
<path d="M417.2,457.8 L424.8,455.6" fill="none" stroke="#333" stroke-width="0.8"/>
<path d="M527,398 L527,404" fill="none" stroke="#555" stroke-width="0.7"/>
<path d="M526.7,413 L526.7,488" fill="none" stroke="#555" stroke-width="0.7"/>
<path d="M612,381 L612,389" fill="none" stroke="#555" stroke-width="0.7"/>
<path d="M253,454 L260,452" fill="none" stroke="#333" stroke-width="0.8"/>
<path d="M331.8,489.8 L363,477.5" fill="none" stroke="#333" stroke-width="0.8"/>
<text x="391" y="268.5" class="l" font-size="12">14</text>
<text x="177" y="329" class="l" font-size="12">17</text>
<text x="397.5" y="304" class="l" font-size="12">21</text>
<text x="470" y="341" class="l" font-size="12">16</text>
<text x="176" y="383" class="l" font-size="12">15</text>
<text x="176.3" y="413" class="l" font-size="12">12</text>
<text x="307" y="403" class="l" font-size="12">8</text>
<text x="551" y="383" class="l" font-size="12">3</text>
<text x="550.5" y="412.5" class="l" font-size="12">4</text>
<text x="576" y="379" class="l" font-size="12">23</text>
<text x="658" y="364" class="l" font-size="12">22</text>
<text x="657" y="344" class="l" font-size="12">24</text>
<text x="358.7" y="444.7" class="l" font-size="12">26</text>
<text x="422" y="433" class="l" font-size="12">19</text>
<text x="438.8" y="430.5" class="l" font-size="12">20</text>
<text x="505" y="423.7" class="l" font-size="12">11</text>
<text x="176.7" y="458.8" class="l" font-size="12">13</text>
<text x="375.8" y="502" class="l" font-size="12">25</text>
<text x="400" y="493.3" class="l" font-size="12">18</text>
<text x="624" y="456" class="l" font-size="12">6</text>
<text x="552.5" y="544" class="l" font-size="12">10</text>
<text x="593" y="545" class="l" font-size="12">7</text>
<text x="662" y="544" class="l" font-size="12">6</text>
<text x="704" y="544" class="l" font-size="12">5</text>
<text x="398.3" y="581.7" class="l" font-size="12">9</text>
<text x="420" y="581.7" class="l" font-size="12">10</text>
<text x="519.5" y="583.3" class="l" font-size="12">2</text>
<text x="554" y="583.3" class="l" font-size="12">1</text>
<text x="641.8" y="637" class="s" font-size="9" textLength="35" lengthAdjust="spacingAndGlyphs">00002078</text>
</svg></body></html>
